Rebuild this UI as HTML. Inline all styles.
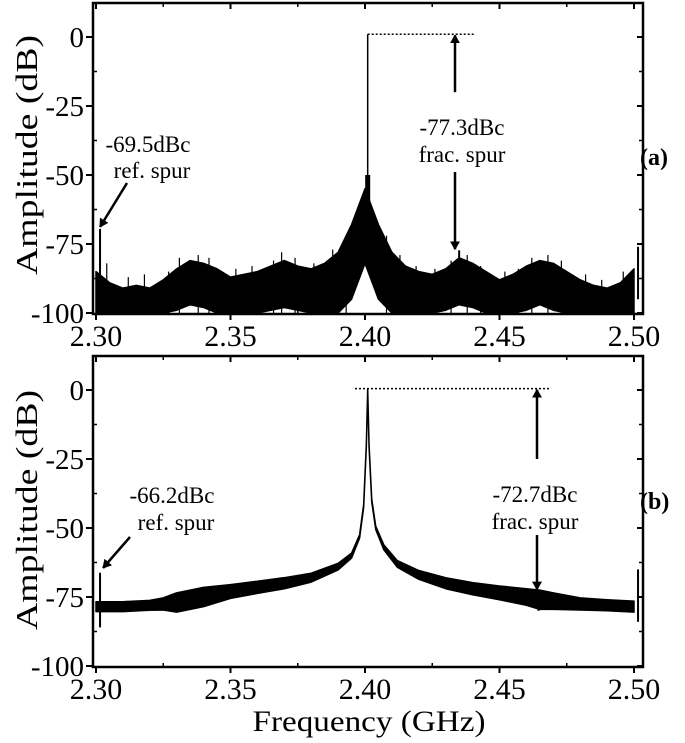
<!DOCTYPE html>
<html><head><meta charset="utf-8"><style>
html,body{margin:0;padding:0;background:#fff;}
svg{display:block;font-family:"Liberation Serif",serif;}
</style></head><body>
<svg id="chart" width="685" height="743" viewBox="0 0 685 743" xmlns="http://www.w3.org/2000/svg">
<g id="pa"></g>
<g id="pb"></g>
<text transform="translate(37,155) rotate(-90)" text-anchor="middle" font-size="31" textLength="240" lengthAdjust="spacingAndGlyphs">Amplitude (dB)</text>
<text transform="translate(37,510) rotate(-90)" text-anchor="middle" font-size="31" textLength="240" lengthAdjust="spacingAndGlyphs">Amplitude (dB)</text>
<text x="369" y="731" text-anchor="middle" font-size="30" textLength="233" lengthAdjust="spacingAndGlyphs">Frequency (GHz)</text>
<text x="640" y="165" font-size="24" font-weight="bold">(a)</text>
<text x="640" y="509" font-size="24" font-weight="bold">(b)</text>
<text x="148" y="152" text-anchor="middle" font-size="23">-69.5dBc</text>
<text x="152" y="178" text-anchor="middle" font-size="23">ref. spur</text>
<text x="462" y="135" text-anchor="middle" font-size="23">-77.3dBc</text>
<text x="462" y="162" text-anchor="middle" font-size="23">frac. spur</text>
<text x="172" y="503" text-anchor="middle" font-size="23">-66.2dBc</text>
<text x="176" y="530" text-anchor="middle" font-size="23">ref. spur</text>
<text x="535" y="502" text-anchor="middle" font-size="23">-72.7dBc</text>
<text x="535" y="529" text-anchor="middle" font-size="23">frac. spur</text>
<defs><marker id="ah" markerWidth="8" markerHeight="10" refX="8" refY="5" orient="auto" markerUnits="userSpaceOnUse"><path d="M0,0 L9,5 L0,10 Z" fill="#000"/></marker></defs>
</svg>
<script>
// Panel (a) noise band, 0.005 GHz steps from 2.300 to 2.500
const aUpper=[-85,-89,-91,-90,-91,-88,-84,-81,-82,-84,-87,-86,-85,-83,-81,-83,-84,-82,-78,-68,-55,-68,-78,-83,-85,-86,-84,-80,-82,-85,-88,-86,-83,-81,-82,-85,-88,-90,-91,-89,-84];
const aLower=[-100,-100,-100,-100,-100,-100,-99,-97,-98,-100,-100,-100,-100,-99,-98,-99,-100,-100,-100,-95,-82,-95,-100,-100,-100,-100,-99,-97,-98,-100,-100,-100,-99,-97,-99,-100,-100,-100,-100,-100,-100];
const aStart=2.30, aStep=0.005;
const aCarrier=[2.401,-50,1];
// extra noise spikes (freq, peak dB)
const aSpikeF=[2.304,2.312,2.318,2.327,2.331,2.338,2.342,2.352,2.358,2.366,2.369,2.374,2.381,2.388,2.393,2.408,2.413,2.419,2.426,2.432,2.438,2.443,2.452,2.457,2.462,2.468,2.473,2.482,2.488,2.496];
const aSpikeV=[-82,-87,-86,-85,-80,-79,-80,-84,-83,-81,-78,-80,-82,-77,-72,-72,-79,-83,-84,-81,-79,-83,-85,-84,-80,-79,-81,-86,-88,-85];
const aSpurs=[[2.3015,-69.5],[2.435,-77.3],[2.5015,-76]];
// Panel (b)
const bFreq=[2.30,2.31,2.32,2.325,2.33,2.34,2.35,2.36,2.37,2.38,2.39,2.395,2.398,2.3995,2.4005,2.401,2.4015,2.4025,2.404,2.407,2.412,2.42,2.43,2.44,2.45,2.46,2.465,2.47,2.48,2.49,2.50];
const bMid=[-78.5,-78.5,-78,-77.5,-77,-75,-73,-71.5,-70,-68,-64,-60,-53,-42,-20,0,-20,-40,-50,-57,-63,-67,-70,-72,-73.5,-75,-76,-76.5,-77.5,-78,-78.5];
const bHalf=[1.8,1.8,1.8,2.2,3.5,3.5,2.5,2.2,2,1.6,1.2,0.9,0.6,0.5,0.5,0.5,0.5,0.5,0.6,0.9,1.2,1.6,2,2.2,2.5,3,3.5,3,2.2,2,2];
const bSpurs=[[2.3015,-66.2,-86],[2.4645,-72.7,-80],[2.5015,-65,-84]];
const yTicks=[0,-25,-50,-75,-100];
const xTicks=["2.30","2.35","2.40","2.45","2.50"];

const NS="http://www.w3.org/2000/svg";
function mk(p,t,a){const e=document.createElementNS(NS,t);for(const k in a)e.setAttribute(k,a[k]);p.appendChild(e);return e;}
const X=f=>96+(f-2.3)*2690;
const L=93,R=643;
function panel(g,top,bottom,y0){
  const Y=d=>y0-d*2.76;
  const frame=mk(g,'rect',{x:L,y:top,width:R-L,height:bottom-top,fill:'none',stroke:'#000','stroke-width':2.5});
  
  
  yTicks.forEach(v=>{
    const y=Y(v);
    const t=mk(g,'line',{x1:L-7,x2:L,y1:y,y2:y,stroke:'#000','stroke-width':2});
    
    
    mk(g,'line',{x1:R-6,x2:R,y1:y,y2:y,stroke:'#000','stroke-width':2});
    if(v>-100){const ym=Y(v-12.5);mk(g,'line',{x1:L,x2:L+4,y1:ym,y2:ym,stroke:'#000','stroke-width':1.5});mk(g,'line',{x1:R-4,x2:R,y1:ym,y2:ym,stroke:'#000','stroke-width':1.5});}
    const tl=mk(g,'text',{x:L-9,y:y+10,'text-anchor':'end','font-size':29});
    tl.textContent=v;
    
    
  });
  xTicks.forEach((s,i)=>{
    const x=X(parseFloat(s));
    mk(g,'line',{x1:x,x2:x,y1:bottom,y2:bottom+6,stroke:'#000','stroke-width':2});
    mk(g,'line',{x1:x,x2:x,y1:top,y2:top+6,stroke:'#000','stroke-width':2});
    if(i<4){const xm=X(parseFloat(s)+0.025);mk(g,'line',{x1:xm,x2:xm,y1:bottom-4,y2:bottom,stroke:'#000','stroke-width':1.5});mk(g,'line',{x1:xm,x2:xm,y1:top,y2:top+4,stroke:'#000','stroke-width':1.5});}
    const tl=mk(g,'text',{x:x,y:bottom+32,'text-anchor':'middle','font-size':30});
    tl.textContent=s;
    
    
  });
  return Y;
}
// Panel a
const ga=document.getElementById('pa');
const Ya=panel(ga,3,314,37);
let pts=[];
aUpper.forEach((v,i)=>pts.push(X(aStart+i*aStep)+','+Ya(v)));
for(let i=aLower.length-1;i>=0;i--)pts.push(X(aStart+i*aStep)+','+Ya(aLower[i]));
const bandA=mk(ga,'polygon',{points:pts.join(' '),fill:'#000',stroke:'#000','stroke-width':1.5,'stroke-linejoin':'round'});


aSpikeF.forEach((f,i)=>{
  const s=mk(ga,'line',{x1:X(f),x2:X(f),y1:Ya(aSpikeV[i]),y2:Ya(-100),stroke:'#000','stroke-width':1.2});
  
  
});
const car=mk(ga,'line',{x1:X(aCarrier[0]),x2:X(aCarrier[0]),y1:Ya(aCarrier[1]),y2:Ya(aCarrier[2]),stroke:'#000','stroke-width':1.5});


mk(ga,'rect',{x:X(aCarrier[0])-2.5,y:Ya(aCarrier[1]),width:5,height:Ya(-62)-Ya(aCarrier[1]),fill:'#000'});
aSpurs.forEach(s=>{
  const l=mk(ga,'line',{x1:X(s[0]),x2:X(s[0]),y1:Ya(s[1]),y2:Ya(-95),stroke:'#000','stroke-width':2});
  
  
});
mk(ga,'line',{x1:X(aCarrier[0]),x2:475,y1:Ya(aCarrier[2]),y2:Ya(aCarrier[2]),stroke:'#000','stroke-width':1.5,'stroke-dasharray':'2,2'});
mk(ga,'line',{x1:455,x2:455,y1:Ya(-20),y2:Ya(aCarrier[2])+1,stroke:'#000','stroke-width':2.5,'marker-end':'url(#ah)'});
mk(ga,'line',{x1:455,x2:455,y1:172,y2:Ya(-77.3)-1,stroke:'#000','stroke-width':2.5,'marker-end':'url(#ah)'});
mk(ga,'line',{x1:127,x2:100,y1:183,y2:227,stroke:'#000','stroke-width':2.5,'marker-end':'url(#ah)'});
// Panel b
const gb=document.getElementById('pb');
const Yb=panel(gb,356,667,390);
pts=[];
bFreq.forEach((f,i)=>pts.push(X(f)+','+Yb(bMid[i]+bHalf[i])));
for(let i=bFreq.length-1;i>=0;i--)pts.push(X(bFreq[i])+','+Yb(bMid[i]-bHalf[i]));
const bandB=mk(gb,'polygon',{points:pts.join(' '),fill:'#000',stroke:'#000','stroke-width':1.5,'stroke-linejoin':'round'});


bSpurs.forEach(s=>{
  const l=mk(gb,'line',{x1:X(s[0]),x2:X(s[0]),y1:Yb(s[1]),y2:Yb(s[2]),stroke:'#000','stroke-width':2});
  
  
});
mk(gb,'line',{x1:355,x2:550,y1:Yb(0.5),y2:Yb(0.5),stroke:'#000','stroke-width':1.5,'stroke-dasharray':'2,2'});
mk(gb,'line',{x1:537,x2:537,y1:Yb(-25),y2:Yb(0.5)+1,stroke:'#000','stroke-width':2.5,'marker-end':'url(#ah)'});
mk(gb,'line',{x1:537,x2:537,y1:535,y2:Yb(-72.7)-1,stroke:'#000','stroke-width':2.5,'marker-end':'url(#ah)'});
mk(gb,'line',{x1:130,x2:103,y1:537,y2:568,stroke:'#000','stroke-width':2.5,'marker-end':'url(#ah)'});
</script>
</body></html>
